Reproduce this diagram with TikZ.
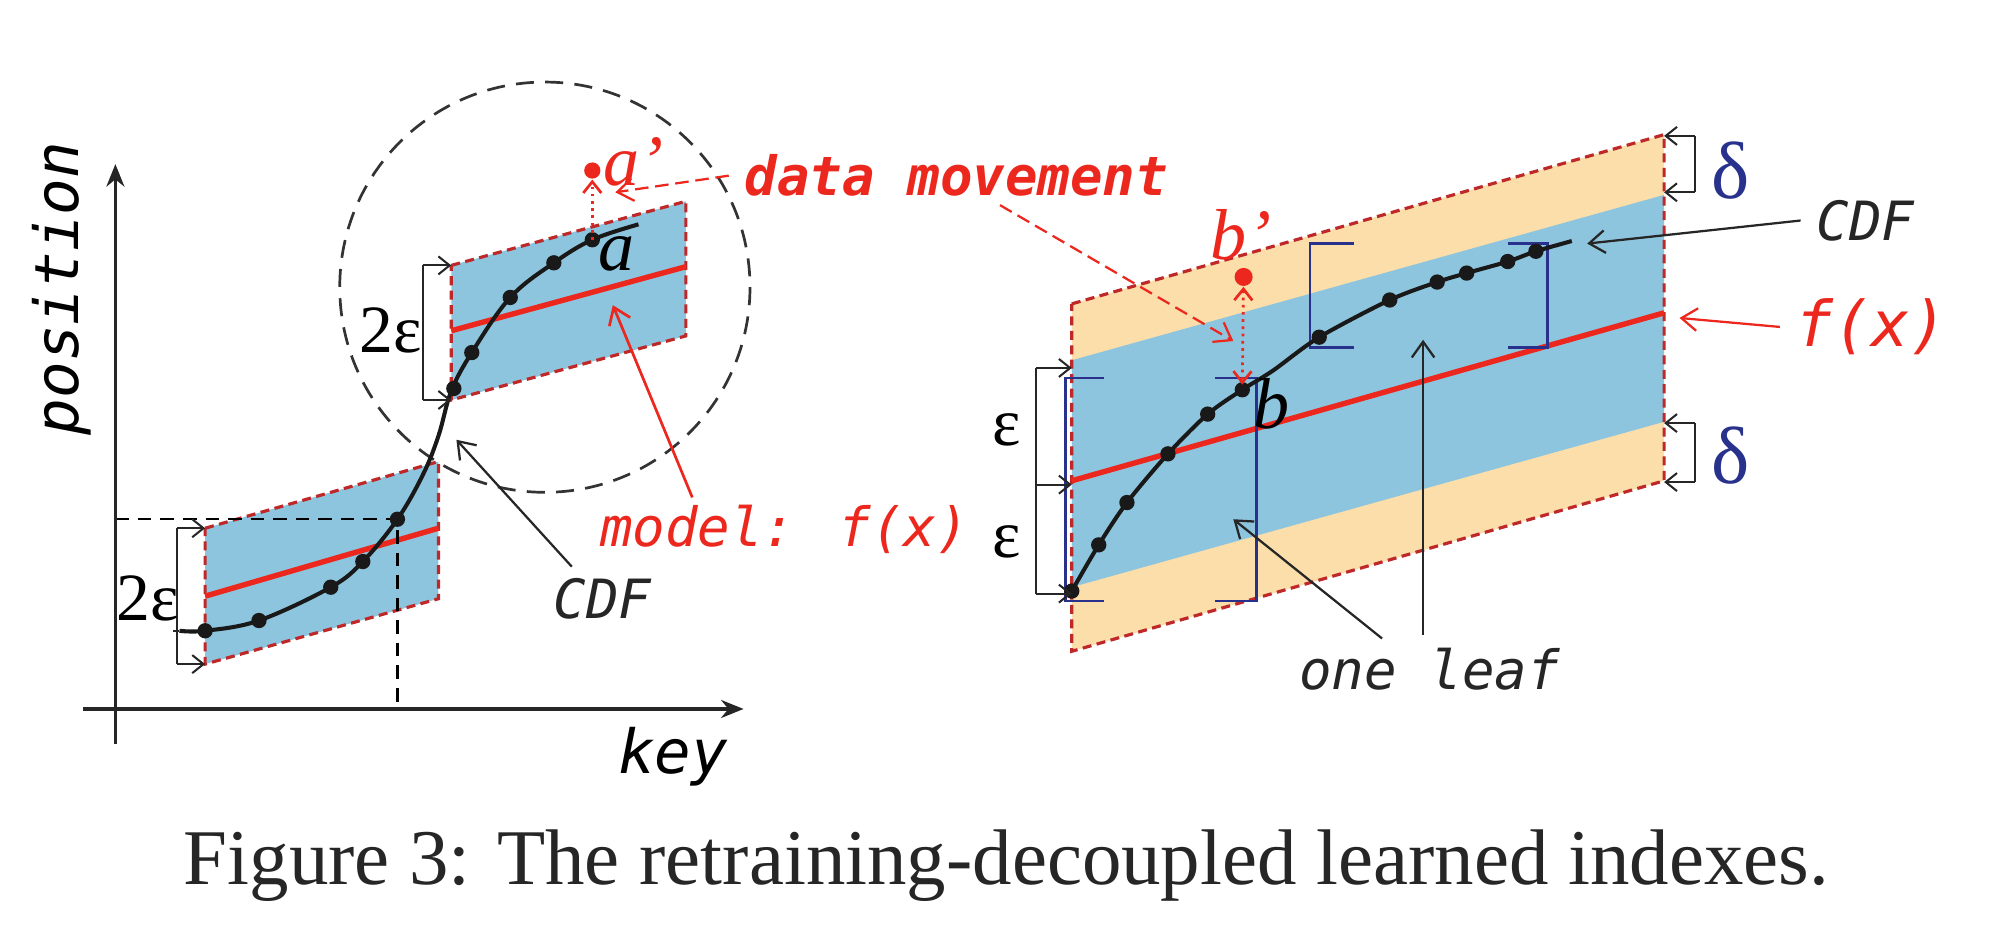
\documentclass[tikz,border=0pt]{standalone}
\usepackage{fontspec}
\setmainfont{Liberation Serif}
\newfontfamily\monof{DejaVu Sans Mono}
\usetikzlibrary{arrows.meta}
\definecolor{bandblue}{RGB}{142,197,222}
\definecolor{bandorange}{RGB}{251,222,170}
\definecolor{rred}{RGB}{236,40,30}
\definecolor{dred}{RGB}{190,40,40}
\definecolor{navy}{RGB}{40,50,140}
\tikzset{
  box/.style={draw=dred, dash pattern=on 2pt off 1.2pt, line width=0.7pt},
  fline/.style={rred, line width=1.2pt},
  cdf/.style={black!90, line width=0.9pt},
  dot/.style={circle, fill=black!90, inner sep=0pt, minimum size=3.4pt},
  mono/.style={font=\monof\itshape\fontsize{12}{14}\selectfont},
  brk/.style={black!85, line width=0.45pt},
  barb/.style={-{Straight Barb[length=2.5pt,width=4pt]}},
  lbl/.style={font=\fontsize{15}{18}\selectfont},
  nb/.style={navy, line width=0.5pt},
  ptr/.style={-{Straight Barb[length=3.5pt,width=5pt]}, line width=0.5pt},
}
\begin{document}
\begin{tikzpicture}[x=0.01cm,y=-0.01cm]
\useasboundingbox (0,0) rectangle (1560,727);
% ---------- left panel ----------
\draw[box, fill=bandblue] (160,412) -- (342,360) -- (342,467) -- (160,518) -- cycle;
\draw[box, fill=bandblue] (352,207) -- (535,157) -- (535,262) -- (352,312) -- cycle;
\draw[fline] (160,465) -- (342,412);
\draw[fline] (352,258) -- (535,208);
\draw[dash pattern=on 3pt off 2pt, line width=0.5pt] (90,405) -- (310,405) -- (310,553);
% axes
\draw[-{Stealth[length=5pt,width=4pt]}, line width=0.7pt, black!85] (90,580) -- (90,128);
\draw[-{Stealth[length=5pt,width=4pt]}, line width=0.7pt, black!85] (65,553) -- (580,553);
\node[mono, font=\monof\itshape\fontsize{13.5}{15}\selectfont, rotate=90] (pos) at (48,225) {position};
\node[mono, font=\monof\itshape\fontsize{13.5}{15}\selectfont] (key) at (525,590) {key};
% circle
\draw[line width=0.6pt, black!80, dash pattern=on 4pt off 2.5pt] (425,224) circle (160);
% CDF curve
\draw[cdf] plot[smooth, tension=0.6] coordinates {(140,492) (160,492) (202,484) (258,458) (283,438) (310,405) (330,370) (342,340) (352,305) (368,275) (398,232) (432,205) (462,187) (498,175)};
\foreach \p in {(160,492),(202,484),(258,458),(283,438),(310,405),(354,303),(368,275),(398,232),(432,205),(462,187)}
  \node[dot] at \p {};
% brackets 2eps
\draw[brk] (138,412) -- (138,518);
\draw[brk] (135,492) -- (140,492);
\draw[brk, barb] (138,412) -- (160,412);
\draw[brk, barb] (138,518) -- (160,518);
\node[lbl] (e1) at (115,467) {2ε};
\draw[brk] (330,207) -- (330,312);
\draw[brk, barb] (330,207) -- (352,207);
\draw[brk, barb] (330,312) -- (352,312);
\node[lbl] (e2) at (305,258) {2ε};
% a, a'
\coordinate (pa) at (462,187);
\node[circle, fill=rred, inner sep=0pt, minimum size=3.6pt] (pa2) at (462,133) {};
\draw[rred, densely dotted, line width=0.6pt, -{Straight Barb[length=2.5pt,width=4pt]}] (pa) -- (pa2);
\node[lbl, font=\itshape\fontsize{16}{18}\selectfont] (la) at (481,198) {a};
\node[lbl, rred, font=\itshape\fontsize{16}{18}\selectfont] (la2) at (494,126) {a’};
% labels left
\node[mono, rred, font=\monof\bfseries\itshape\fontsize{12}{14}\selectfont] (dm) at (746,137) {data movement};
\coordinate (dma) at (480,150);
\draw[rred, dash pattern=on 3pt off 1.5pt, line width=0.5pt, ptr] (dm.west) -- (dma);
\node[mono, rred] (model) at (612,413) {model: f(x)};
\coordinate (mt) at (478,238);
\draw[rred, ptr, line width=0.6pt] (540,388) -- (mt);
\node[mono, black!85] (cdf1) at (470,467) {CDF};
\coordinate (ct) at (356,343);
\draw[ptr, black!85] (446,442) -- (ct);
% ---------- right panel ----------
\fill[bandorange] (836,237) -- (1298,105) -- (1298,375) -- (836,508) -- cycle;
\fill[bandblue] (836,281) -- (1298,152) -- (1298,329) -- (836,458) -- cycle;
\draw[box] (836,237) -- (1298,105) -- (1298,375) -- (836,508) -- cycle;
\draw[fline] (836,375) -- (1298,244);
% navy brackets
\draw[nb] (861,295) -- (831,295) -- (831,469) -- (861,469);
\draw[nb] (948,295) -- (980,295) -- (980,469) -- (948,469);
\draw[nb] (1056,190) -- (1022,190) -- (1022,271) -- (1056,271);
\draw[nb] (1176,190) -- (1207,190) -- (1207,271) -- (1176,271);
% right CDF
\draw[cdf] plot[smooth, tension=0.5] coordinates {(836,461) (857,425) (879,392) (911,354) (942,323) (969,304) (993,289) (1029,263) (1084,234) (1121,220) (1144,213) (1176,204) (1198,196) (1226,188)};
\foreach \p in {(836,461),(857,425),(879,392),(911,354),(942,323),(969,304),(1029,263),(1084,234),(1121,220),(1144,213),(1176,204),(1198,196)}
  \node[dot] at \p {};
% eps bracket
\draw[brk] (808,287) -- (808,463);
\draw[brk, barb] (808,287) -- (836,287);
\draw[brk, barb] (808,378) -- (836,378);
\draw[brk, barb] (808,463) -- (836,463);
\node[lbl] (ea) at (785,335) {ε};
\node[lbl] (eb) at (785,423) {ε};
% delta brackets
\draw[brk] (1322,106) -- (1322,150);
\draw[brk, barb] (1322,106) -- (1298,106);
\draw[brk, barb] (1322,150) -- (1298,150);
\draw[brk] (1322,330) -- (1322,376);
\draw[brk, barb] (1322,330) -- (1298,330);
\draw[brk, barb] (1322,376) -- (1298,376);
\node[lbl, navy, font=\fontsize{18}{20}\selectfont] (d1) at (1350,133) {δ};
\node[lbl, navy, font=\fontsize{18}{20}\selectfont] (d2) at (1350,355) {δ};
% b, b'
\coordinate (pb) at (969,300);
\node[circle, fill=rred, inner sep=0pt, minimum size=4pt] (pb2) at (970,216) {};
\draw[rred, densely dotted, line width=0.6pt, {Straight Barb[length=2.5pt,width=4pt]}-{Straight Barb[length=2.5pt,width=4pt]}] (pb2) -- (pb);
\node[lbl, font=\itshape\fontsize{16}{18}\selectfont] (lb) at (992,315) {b};
\node[lbl, rred, font=\itshape\fontsize{16}{18}\selectfont] (lb2) at (968,183) {b’};
\coordinate (dmb) at (962,266);
\draw[rred, dash pattern=on 3pt off 1.5pt, line width=0.5pt, ptr] (780,160) -- (dmb);
% right labels
\node[mono, black!85] (cdf2) at (1455,172) {CDF};
\coordinate (c2t) at (1238,190);
\draw[ptr, black!85] (cdf2.west) -- (c2t);
\node[mono, rred, font=\monof\itshape\fontsize{14}{16}\selectfont] (fx) at (1460,255) {f(x)};
\coordinate (fxt) at (1310,248);
\draw[rred, ptr] (fx.west) -- (fxt);
\node[mono, black!85] (leaf) at (1115,522) {one leaf};
\coordinate (l1) at (962,405);
\coordinate (l2) at (1110,265);
\draw[ptr, black!85] (1078,498) -- (l1);
\draw[ptr, black!85] (1110,495) -- (l2);
% caption
\node[font=\fontsize{17.5}{20}\selectfont, text=black!85] (cap) at (785,675) {Figure 3: The retraining-decoupled learned indexes.};
\end{tikzpicture}
\end{document}
